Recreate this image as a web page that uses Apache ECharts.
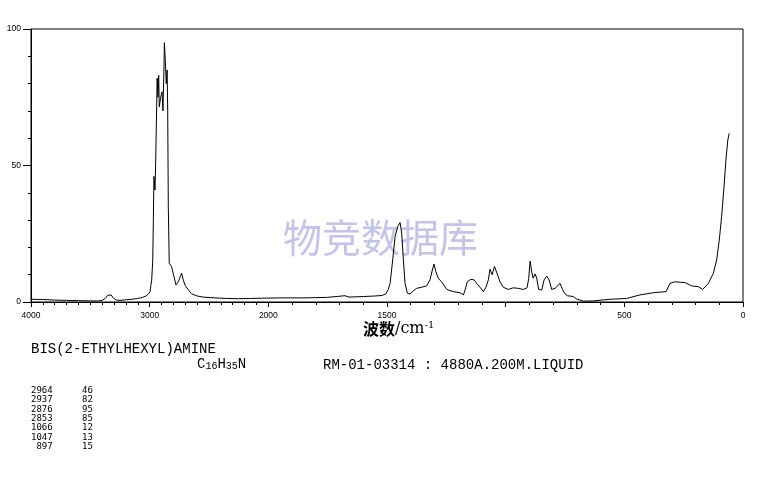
<!DOCTYPE html>
<html>
<head>
<meta charset="utf-8">
<script src="https://cdn.jsdelivr.net/npm/echarts@6/dist/echarts.min.js"></script>
<style>
html,body{margin:0;padding:0;background:#fff;}
#chart{width:761px;height:477px;}
</style>
</head>
<body>
<div id="chart"></div>
<script>
// Spectrum (wavenumber cm-1, relative intensity)
const wavenumbers = [4000,3900,3800,3700,3600,3500,3430,3400,3375,3355,3340,3325,3305,3280,3250,3200,3150,3100,3060,3030,3010,2997,2990,2983,2974,2969,2964,2955,2949,2941,2937,2930,2924,2919,2907,2896,2888,2879,2876,2868,2860,2853,2848,2843,2835,2815,2795,2778,2759,2740,2730,2717,2700,2670,2646,2600,2550,2450,2350,2250,2150,2050,1950,1850,1750,1690,1677,1660,1600,1550,1520,1505,1495,1487,1476,1466,1455,1445,1438,1431,1424,1414,1403,1389,1375,1354,1333,1319,1309,1302,1294,1284,1270,1248,1221,1192,1178,1171,1162,1147,1133,1122,1108,1094,1083,1073,1066,1057,1047,1034,1024,1010,989,968,947,926,910,903,897,890,884,876,869,861,848,838,827,817,806,792,771,760,750,740,715,701,673,631,560,490,434,378,324,308,287,244,216,188,170,146,125,111,100,90,80,72,64,58];
const intensities = [1.0,0.9,0.7,0.6,0.5,0.4,0.4,0.6,1.3,2.4,3.1,2.6,1.4,0.7,0.6,0.8,1.0,1.3,1.7,2.2,3.0,3.8,6,8,15.4,30,46,41,52,71.5,82,75,83,71.5,75,77,70,86.8,95,88,80,85,70,35,14.2,12.9,9.3,6.2,7.4,9.5,10.5,8,6,4.2,3.0,2.2,1.8,1.5,1.3,1.2,1.3,1.4,1.5,1.5,1.7,2.2,2.3,1.8,2.0,2.2,2.4,3.0,4.5,6.8,15.4,23.9,27.6,29.1,25.2,15.4,6.8,3.2,2.9,4.1,5.0,5.4,5.9,8.1,11.7,13.9,11.1,8.7,7.4,4.6,3.8,3.4,2.6,4.4,7.4,8.3,8.1,6.8,5.4,3.8,5.4,8.1,12,10,13,9.9,7.4,5.4,4.6,5.2,5.0,4.6,5.2,8.5,15,11,8.7,10.3,8.7,4.6,4.4,8.1,9.5,8.1,4.6,5.0,6.8,4.5,3.0,2.3,2.0,1.1,0.3,0.4,1.0,1.3,2.6,3.4,3.8,6.8,7.4,7.1,5.9,5.6,4.6,6.8,10.5,15.4,22.7,31.3,42.2,52,59.3,61.8];

const xLabelValues = [4000,3000,2000,1500,500,0];
const yLabelValues = [0,50,100];
const peakWn = [2964,2937,2876,2853,1066,1047,897];
const peakInt = [46,82,95,85,12,13,15];

const compoundName = 'BIS(2-ETHYLHEXYL)AMINE';
const sampleInfo = 'RM-01-03314 : 4880A.200M.LIQUID';

// piecewise axis: 4000-2000 compressed by 2
function toP(w){ return w >= 2000 ? (4000 - w) / 2 : 3000 - w; }
function fromP(p){ return p <= 1000 ? 4000 - 2 * p : 3000 - p; }

const seriesData = wavenumbers.map((w, i) => [toP(w), intensities[i]]);

const chart = echarts.init(document.getElementById('chart'));
const labelFont = {fontFamily: 'Liberation Sans', fontSize: 8.5, color: '#000'};
const plotW = 712;

chart.setOption({
  animation: false,
  backgroundColor: '#fff',
  grid: [
    {left: 31, right: 18, top: 29, bottom: 175, show: true, borderColor: '#000', borderWidth: 1, backgroundColor: 'transparent'},
    {left: 31, width: plotW / 3, top: 29, bottom: 175, show: false},
    {left: 31 + plotW / 3, right: 18, top: 29, bottom: 175, show: false}
  ],
  xAxis: [
    {
      gridIndex: 0, type: 'value', min: 0, max: 3000, interval: 500,
      axisLine: {show: true, lineStyle: {color: '#000', width: 1}},
      axisTick: {show: true, length: 5, lineStyle: {color: '#000'}},
      splitLine: {show: false},
      axisLabel: Object.assign({
        margin: 9,
        formatter: function(p){
          const w = Math.round(fromP(p));
          return xLabelValues.indexOf(w) >= 0 ? String(w) : '';
        }
      }, labelFont)
    },
    {
      gridIndex: 1, type: 'value', min: 0, max: 1000, interval: 50,
      axisLine: {show: false}, axisLabel: {show: false}, splitLine: {show: false},
      axisTick: {show: true, length: 3, lineStyle: {color: '#000'}}
    },
    {
      gridIndex: 2, type: 'value', min: 1000, max: 3000, interval: 100,
      axisLine: {show: false}, axisLabel: {show: false}, splitLine: {show: false},
      axisTick: {show: true, length: 3, lineStyle: {color: '#000'}}
    }
  ],
  yAxis: [
    {
      gridIndex: 0, type: 'value', min: 0, max: 100, interval: 50,
      axisLine: {show: true, lineStyle: {color: '#000', width: 1}},
      axisTick: {show: true, length: 8, lineStyle: {color: '#000'}},
      minorTick: {show: true, splitNumber: 5, length: 3, lineStyle: {color: '#000'}},
      splitLine: {show: false},
      axisLabel: Object.assign({
        margin: 10,
        formatter: function(v){ return yLabelValues.indexOf(v) >= 0 ? String(v) : ''; }
      }, labelFont)
    },
    {gridIndex: 1, type: 'value', show: false, min: 0, max: 100},
    {gridIndex: 2, type: 'value', show: false, min: 0, max: 100}
  ],
  series: [{
    type: 'line',
    xAxisIndex: 0, yAxisIndex: 0,
    data: seriesData,
    showSymbol: false,
    symbol: 'none',
    lineStyle: {color: '#000', width: 1},
    z: 5
  }],
  graphic: [
    {
      type: 'text', left: 283, top: 218, z: 0, zlevel: 0, silent: true,
      style: {text: '物竞数据库', fontSize: 39, fontFamily: 'Noto Sans CJK SC', fill: '#c4c4ea'}
    },
    {
      type: 'text', left: 363, top: 320,
      style: {
        text: '{a|波数}{b|/cm}{s|-1}',
        rich: {
          a: {fontSize: 16, fontFamily: 'Noto Sans CJK SC', fontWeight: 'bold', fill: '#000', lineHeight: 18},
          b: {fontSize: 16, fontFamily: 'DejaVu Serif', fill: '#000', lineHeight: 18},
          s: {fontSize: 10, fontFamily: 'DejaVu Serif', fill: '#000', lineHeight: 8, verticalAlign: 'top'}
        }
      }
    },
    {
      type: 'text', left: 31, top: 342,
      style: {text: compoundName, font: '14px "Liberation Mono"', fill: '#000'}
    },
    {
      type: 'text', left: 197, top: 357,
      style: {
        text: '{n|C}{u|16}{n|H}{u|35}{n|N}',
        rich: {
          n: {fontSize: 14, fontFamily: 'Liberation Mono', fill: '#000', lineHeight: 14},
          u: {fontSize: 10, fontFamily: 'Liberation Mono', fill: '#000', lineHeight: 6, verticalAlign: 'bottom'}
        }
      }
    },
    {
      type: 'text', left: 323, top: 358,
      style: {text: sampleInfo, font: '14px "Liberation Mono"', fill: '#000'}
    },
    {
      type: 'text', left: 31, top: 386,
      style: {text: peakWn.map(w => String(w).padStart(4, '\u00a0')).join('\n'), fontSize: 9, fontFamily: 'DejaVu Sans Mono', fill: '#000', lineHeight: 9.33}
    },
    {
      type: 'text', left: 82, top: 386,
      style: {text: peakInt.join('\n'), fontSize: 9, fontFamily: 'DejaVu Sans Mono', fill: '#000', lineHeight: 9.33}
    }
  ]
});
</script>
</body>
</html>
